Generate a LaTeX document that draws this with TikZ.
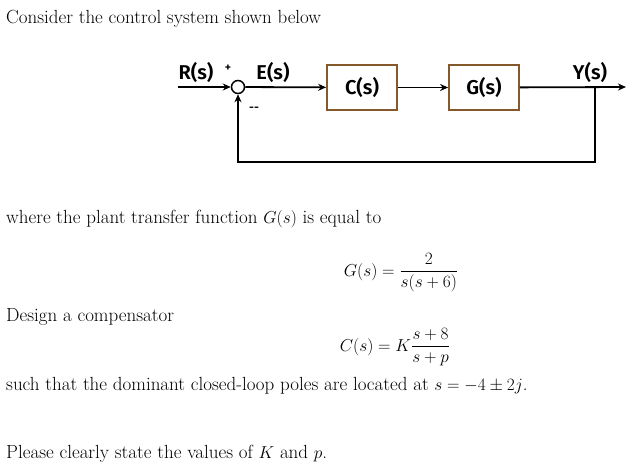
\documentclass[tikz,border=0pt]{standalone}
\usepackage{fontspec}
\usepackage{amsmath}
\usetikzlibrary{arrows.meta}
\newfontfamily\diagfont{Fira Sans SemiBold}
\begin{document}
\begin{tikzpicture}[x=1pt,y=-1pt,
  txt/.style={anchor=base west,inner sep=0pt,font=\fontsize{19}{21}\selectfont},
  eqn/.style={anchor=base,inner sep=0pt,font=\fontsize{17}{19}\selectfont},
  blk/.style={draw=brown!70!black,line width=1.8pt,minimum width=70pt,minimum height=45pt,font=\diagfont\fontsize{20}{22}\selectfont},
  lbl/.style={font=\diagfont\fontsize{20}{22}\selectfont,inner sep=0pt},
  wire/.style={line width=1.8pt},
  arr/.style={wire,-{Stealth[length=8pt,width=7pt]}}]
\useasboundingbox (0,0) rectangle (629,467);
\node[txt] (t1) at (6,23) {Consider the control system shown below};
\node[circle,draw,line width=1.5pt,minimum size=13pt,inner sep=0pt] (sum) at (238,87) {};
\node[blk] (C) at (362,87.5) {C(s)};
\node[blk] (G) at (484,87.5) {G(s)};
\coordinate (in) at (178,87);
\coordinate (out) at (626,87);
\coordinate (tap) at (595,87);
\coordinate (bot) at (595,162);
\coordinate (bl) at (238,162);
\draw[arr] (in) -- (sum);
\draw[arr] (sum) -- (C);
\draw[arr] (C) -- (G);
\draw[arr] (G) -- (out);
\draw[arr] (tap) -- (bot) -- (bl) -- (sum);
\node[lbl] (R) at (196,72) {R(s)};
\node[lbl] (E) at (273,72) {E(s)};
\node[lbl] (Y) at (590,72) {Y(s)};
\node[font=\diagfont\fontsize{12}{12}\selectfont,inner sep=0pt] (plus) at (228,68) {+};
\node[font=\diagfont\fontsize{12}{12}\selectfont,inner sep=0pt] (minus) at (254,109) {--};
\node[txt] (t2) at (6,223) {where the plant transfer function $G(s)$ is equal to};
\node[eqn] (eq1) at (401,276) {$\displaystyle G(s)=\frac{2}{s(s+6)}$};
\node[txt] (t3) at (6,321) {Design a compensator};
\node[eqn] (eq2) at (395,351) {$\displaystyle C(s)=K\frac{s+8}{s+p}$};
\node[txt] (t4) at (6,390) {such that the dominant closed-loop poles are located at $s=-4\pm2j$.};
\node[txt] (t5) at (6,458) {Please clearly state the values of $K$ and $p$.};
\end{tikzpicture}
\end{document}
